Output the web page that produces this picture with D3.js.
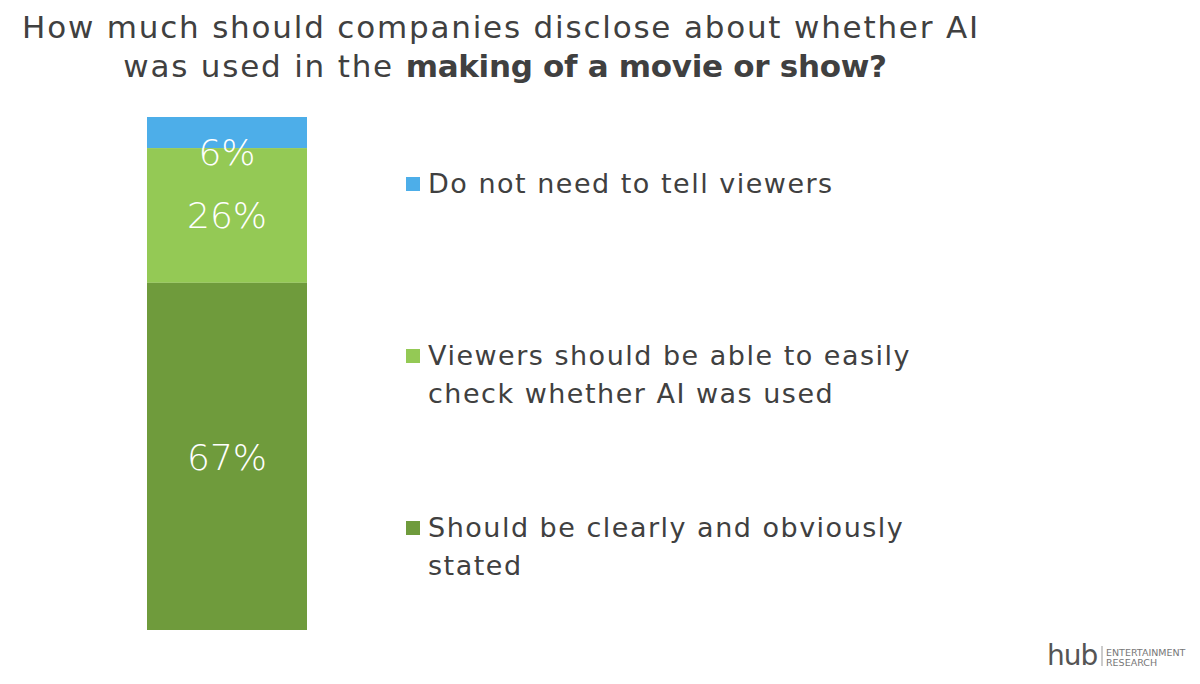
<!DOCTYPE html>
<html>
<head>
<meta charset="utf-8">
<script src="https://cdn.jsdelivr.net/npm/d3@7"></script>
<style>
  body { margin: 0; background: #fff; }
  svg text { font-family: "DejaVu Sans", sans-serif; }
</style>
</head>
<body>
<svg id="chart"></svg>
<script>
var svgWidth = 1200;
var svgHeight = 684;

// data, top segment first
var categories = ["Do not need to tell viewers",
  "Viewers should be able to easily check whether AI was used",
  "Should be clearly and obviously stated"];
var legendLines = [["Do not need to tell viewers"],
  ["Viewers should be able to easily", "check whether AI was used"],
  ["Should be clearly and obviously", "stated"]];
var values = [6, 26, 67];
var colors = ["#4DAEE9", "#94C955", "#6F9B3C"];
var legendY = [183, 355, 527];

var svg = d3.select("#chart")
  .attr("width", svgWidth)
  .attr("height", svgHeight);

// title
var title = svg.append("text")
  .attr("text-anchor", "middle")
  .attr("fill", "#404040")
  .style("font-size", "31px");
title.append("tspan").attr("x", 501).attr("y", 38)
  .style("letter-spacing", "1.8px")
  .text("How much should companies disclose about whether AI");
var t2 = title.append("tspan").attr("x", 505).attr("y", 77);
t2.append("tspan").style("letter-spacing", "1.8px").text("was used in the ");
t2.append("tspan").style("font-weight", "bold").style("letter-spacing", "-0.3px")
  .text("making of a movie or show?");

// stacked bar
var total = d3.sum(values);
var y = d3.scaleLinear().domain([0, total]).range([117, 630]);
var x = d3.scaleBand().domain(["all"]).range([147, 307]);

var stack = [];
var acc = 0;
values.forEach(function(v, i) {
  stack.push({ cat: categories[i], v: v, y0: acc, y1: acc + v, color: colors[i] });
  acc += v;
});

svg.selectAll("rect.seg")
  .data(stack)
  .enter()
  .append("rect")
  .attr("class", "seg")
  .attr("x", x("all"))
  .attr("width", x.bandwidth())
  .attr("y", d => y(d.y0))
  .attr("height", d => y(d.y1) - y(d.y0))
  .attr("fill", d => d.color);

var labelOffset = [15, 13, 14];
svg.selectAll("text.val")
  .data(stack)
  .enter()
  .append("text")
  .attr("class", "val")
  .attr("x", x("all") + x.bandwidth() / 2)
  .attr("y", (d, i) => i === 0 ? 165 : (y(d.y0) + y(d.y1)) / 2 + labelOffset[i])
  .attr("text-anchor", "middle")
  .attr("fill", "#fff")
  .style("font-size", "36px")
  .style("font-weight", "300")
  .text(d => d.v + "%");

// legend
var legend = svg.selectAll("g.leg")
  .data(legendLines)
  .enter()
  .append("g")
  .attr("class", "leg")
  .attr("transform", (d, i) => `translate(406, ${legendY[i]})`);

legend.append("rect")
  .attr("width", 14)
  .attr("height", 14)
  .attr("y", -6)
  .attr("fill", (d, i) => colors[i]);

legend.each(function(lines) {
  var t = d3.select(this).append("text")
    .attr("fill", "#404040")
    .style("font-size", "27px")
    .style("letter-spacing", "1.5px");
  lines.forEach(function(l, j) {
    t.append("tspan").attr("x", 22).attr("y", 10 + j * 38).text(l);
  });
});

// logo
var logo = svg.append("g").attr("transform", "translate(1047, 665)");
logo.append("text")
  .attr("fill", "#555")
  .style("font-size", "28px")
  .style("letter-spacing", "-1px")
  .text("hub");
logo.append("line")
  .attr("x1", 55).attr("x2", 55).attr("y1", -19).attr("y2", 1)
  .attr("stroke", "#999");
logo.append("text")
  .attr("x", 59).attr("y", -9)
  .attr("fill", "#777")
  .style("font-size", "9.5px")
  .text("ENTERTAINMENT");
logo.append("text")
  .attr("x", 59).attr("y", 0.5)
  .attr("fill", "#777")
  .style("font-size", "9.5px")
  .text("RESEARCH");
</script>
</body>
</html>
